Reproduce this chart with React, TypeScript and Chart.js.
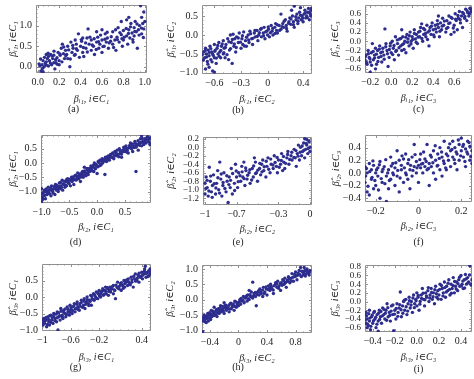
import React, { useEffect, useRef } from "react";
import { Chart, registerables } from "chart.js";

Chart.register(...registerables);

// ---------------- data ----------------
const pointsA: number[][] = [
  [0.02,0.02],[0.03,-0.1],[0.05,-0.12],[0.04,0.05],[0.06,0.0],[0.07,0.08],[0.08,0.12],[0.09,0.2],[0.1,0.25],[0.11,0.15],
  [0.12,0.3],[0.13,0.05],[0.14,0.2],[0.15,0.28],[0.1,0.02],[0.08,0.3],[0.16,-0.05],[0.17,0.1],[0.18,0.22],[0.19,0.35],
  [0.2,0.15],[0.21,0.28],[0.22,0.45],[0.23,0.55],[0.24,0.32],[0.25,0.2],[0.26,0.4],[0.27,0.3],[0.28,0.5],[0.3,0.0],
  [0.31,0.6],[0.32,0.35],[0.33,0.45],[0.35,0.3],[0.36,0.55],[0.37,0.4],[0.38,0.8],[0.4,0.5],[0.41,0.62],[0.42,0.35],
  [0.43,0.25],[0.45,0.45],[0.46,0.7],[0.47,0.92],[0.48,0.55],[0.5,0.4],[0.5,0.65],[0.52,0.5],[0.53,0.3],[0.55,0.6],
  [0.56,0.72],[0.57,0.45],[0.58,0.55],[0.6,0.65],[0.6,0.35],[0.62,0.5],[0.63,0.8],[0.64,0.6],[0.65,0.7],[0.66,0.45],
  [0.68,0.62],[0.7,0.85],[0.7,0.55],[0.72,0.65],[0.73,0.4],[0.74,0.72],[0.75,0.95],[0.76,0.6],[0.78,0.78],[0.79,0.5],
  [0.8,0.88],[0.8,0.65],[0.83,1.14],[0.83,0.75],[0.84,0.55],[0.85,0.9],[0.86,0.7],[0.87,1.05],[0.88,0.82],[0.89,0.6],
  [0.9,0.95],[0.9,0.75],[0.91,1.1],[0.92,0.85],[0.93,0.45],[0.94,0.9],[0.95,1.0],[0.96,1.48],[0.97,0.8],[0.98,1.05],
  [0.99,1.33],[0.99,0.92],[1.0,1.1],[0.97,1.2],[0.85,1.2],[0.78,1.1],[0.6,0.9],[0.55,0.85],[0.42,0.7],[0.35,0.65],
  [0.28,0.2],[0.2,0.05],[0.15,0.1],[0.05,0.15]
];
const pointsA2: number[][] = [
  [0.013,0.07],[0.027,0.19],[0.044,-0.04],[0.063,0.23],[0.081,0.04],[0.097,0.33],[0.118,0.09],[0.134,0.26],[0.152,0.38],[0.167,0.17],
  [0.183,0.06],[0.207,0.31],[0.226,0.12],[0.243,0.48],[0.262,0.27],[0.289,0.41],[0.304,0.19],[0.327,0.52],[0.343,0.28],[0.361,0.44],
  [0.389,0.23],[0.407,0.66],[0.426,0.47],[0.447,0.58],[0.463,0.36],[0.487,0.72],[0.509,0.53],[0.527,0.68],[0.546,0.42],[0.568,0.61],
  [0.587,0.77],[0.609,0.49],[0.627,0.67],[0.648,0.84],[0.667,0.58],[0.686,0.73],[0.708,0.47],[0.727,0.9],[0.743,0.66],[0.767,0.83],
  [0.786,0.68],[0.807,0.72],[0.826,0.93],[0.847,0.81],[0.866,0.97],[0.887,0.66],[0.906,0.86],[0.927,1.04],[0.946,0.77],[0.968,0.94],
  [0.986,0.71]
];
const pointsB: number[][] = [
  [-0.72,-0.45],[-0.71,-0.6],[-0.7,-0.9],[-0.7,-0.35],[-0.69,-0.5],[-0.68,-0.7],[-0.67,-0.4],[-0.66,-0.55],[-0.65,-0.3],[-0.64,-0.65],
  [-0.63,-0.45],[-0.62,-0.95],[-0.62,-0.5],[-0.6,-0.25],[-0.6,-0.6],[-0.59,-0.4],[-0.58,-0.75],[-0.57,-0.35],[-0.56,-0.5],[-0.55,-0.2],
  [-0.54,-0.45],[-0.53,-0.6],[-0.52,-0.3],[-0.5,-0.15],[-0.5,-0.5],[-0.49,-0.35],[-0.48,-0.6],[-0.47,-0.25],[-0.45,-0.1],[-0.44,-0.65],
  [-0.43,-0.4],[-0.42,0.0],[-0.41,-0.2],[-0.4,-0.75],[-0.39,0.02],[-0.38,-0.3],[-0.37,-0.1],[-0.36,-0.45],[-0.35,-0.05],[-0.33,-0.2],
  [-0.32,0.05],[-0.3,-0.35],[-0.29,-0.1],[-0.28,-0.25],[-0.27,0.08],[-0.25,-0.15],[-0.24,-0.3],[-0.22,0.0],[-0.21,-0.2],[-0.2,0.1],
  [-0.18,-0.1],[-0.17,-0.25],[-0.15,0.05],[-0.14,-0.05],[-0.12,0.12],[-0.11,-0.15],[-0.1,0.0],[-0.08,0.15],[-0.07,-0.05],[-0.05,0.05],
  [-0.04,0.2],[-0.03,-0.1],[-0.01,0.1],[0.0,0.0],[0.01,0.15],[0.02,-0.05],[0.04,0.25],[0.05,0.1],[0.06,0.0],[0.08,0.2],
  [0.09,0.3],[0.1,0.12],[0.11,0.05],[0.13,0.25],[0.15,0.55],[0.15,0.15],[0.17,0.3],[0.18,0.2],[0.2,0.4],[0.21,0.25],
  [0.22,0.1],[0.24,0.35],[0.25,0.45],[0.26,0.28],[0.28,0.5],[0.29,0.35],[0.3,0.76],[0.3,0.2],[0.32,0.4],[0.33,0.55],
  [0.34,0.3],[0.35,0.45],[0.36,0.6],[0.38,0.4],[0.39,0.5],[0.4,0.35],[0.41,0.55],[0.42,0.65],[0.43,0.45],[0.44,0.5],
  [0.45,0.6],[0.46,0.7],[0.47,0.4],[0.48,0.55],[0.49,0.65],[0.37,0.72],[0.27,0.65],[-0.66,-0.85],[-0.6,-0.98]
];
const pointsB2: number[][] = [
  [-0.737,-0.52],[-0.724,-0.66],[-0.703,-0.41],[-0.688,-0.58],[-0.674,-0.77],[-0.657,-0.46],[-0.641,-0.36],[-0.627,-0.71],[-0.613,-0.54],[-0.596,-0.43],
  [-0.578,-0.61],[-0.563,-0.28],[-0.547,-0.56],[-0.528,-0.41],[-0.512,-0.24],[-0.493,-0.47],[-0.476,-0.33],[-0.458,-0.52],[-0.437,-0.18],[-0.418,-0.36],
  [-0.397,-0.12],[-0.376,-0.24],[-0.354,-0.33],[-0.331,-0.08],[-0.307,-0.19],[-0.284,-0.02],[-0.262,-0.29],[-0.238,-0.06],[-0.214,-0.13],[-0.192,0.03],
  [-0.167,-0.09],[-0.143,0.12],[-0.118,-0.04],[-0.094,0.06],[-0.071,0.17],[-0.046,-0.02],[-0.023,0.08],[0.007,0.21],[0.031,0.06],[0.057,0.17],
  [0.083,0.04],[0.107,0.27],[0.134,0.12],[0.163,0.22],[0.186,0.36],[0.213,0.17],[0.237,0.31],[0.263,0.42],[0.291,0.27],[0.317,0.48],
  [0.343,0.36],[0.372,0.52],[0.394,0.44],[0.423,0.58],[0.447,0.46],[0.468,0.6],[0.486,0.5],[0.493,0.7]
];
const pointsC: number[][] = [
  [-0.25,-0.4],[-0.24,-0.3],[-0.23,-0.5],[-0.22,-0.2],[-0.21,-0.35],[-0.2,-0.67],[-0.2,-0.45],[-0.19,-0.25],[-0.18,-0.05],[-0.17,-0.4],
  [-0.16,-0.3],[-0.15,-0.15],[-0.14,-0.5],[-0.13,-0.2],[-0.12,-0.35],[-0.11,-0.1],[-0.1,-0.25],[-0.09,-0.45],[-0.08,-0.15],[-0.07,-0.3],
  [-0.06,0.27],[-0.05,-0.05],[-0.04,-0.2],[-0.03,-0.55],[-0.02,-0.35],[-0.01,-0.1],[0.0,-0.25],[0.01,0.0],[0.02,-0.15],[0.03,-0.4],
  [0.04,0.1],[0.05,-0.2],[0.06,-0.05],[0.07,-0.3],[0.08,0.05],[0.09,-0.1],[0.1,-0.2],[0.11,0.1],[0.12,-0.05],[0.13,0.0],
  [0.14,-0.25],[0.15,0.15],[0.16,0.05],[0.17,-0.1],[0.18,0.2],[0.19,0.0],[0.2,0.1],[0.21,-0.15],[0.22,0.25],[0.23,0.05],
  [0.24,0.15],[0.25,-0.05],[0.26,0.2],[0.27,0.1],[0.28,0.3],[0.29,0.38],[0.3,0.0],[0.31,0.15],[0.32,0.25],[0.33,0.1],
  [0.34,0.35],[0.35,0.2],[0.36,-0.1],[0.37,0.3],[0.38,0.15],[0.39,0.4],[0.4,0.25],[0.41,0.1],[0.42,0.35],[0.43,0.2],
  [0.44,0.45],[0.45,0.3],[0.46,0.1],[0.47,0.4],[0.48,0.25],[0.49,0.5],[0.5,0.35],[0.52,0.2],[0.53,0.45],[0.54,0.3],
  [0.55,0.55],[0.56,0.4],[0.57,0.15],[0.58,0.5],[0.6,0.35],[0.61,0.6],[0.62,0.45],[0.63,0.25],[0.64,0.5],[0.65,0.65],
  [0.66,0.4],[0.67,0.55],[0.68,0.3],[0.69,0.6],[0.7,0.5],[0.71,0.7],[0.72,0.45],[0.73,0.62],[0.74,0.55],[0.75,0.72],
  [0.76,0.65],[0.6,0.2],[0.45,0.55],[0.1,0.25],[-0.15,-0.6]
];
const pointsC2: number[][] = [
  [-0.247,-0.33],[-0.236,-0.46],[-0.218,-0.27],[-0.203,-0.38],[-0.187,-0.52],[-0.172,-0.22],[-0.158,-0.36],[-0.141,-0.28],[-0.127,-0.44],[-0.113,-0.17],
  [-0.097,-0.33],[-0.083,-0.23],[-0.067,-0.39],[-0.052,-0.12],[-0.036,-0.27],[-0.018,-0.18],[-0.006,-0.04],[0.014,-0.29],[0.027,-0.09],[0.043,-0.22],
  [0.058,0.03],[0.074,-0.14],[0.092,0.06],[0.108,-0.07],[0.123,-0.18],[0.139,0.09],[0.156,-0.02],[0.173,0.12],[0.188,-0.06],[0.204,0.04],
  [0.221,0.17],[0.238,-0.02],[0.256,0.09],[0.273,0.22],[0.292,0.06],[0.308,0.28],[0.327,0.17],[0.346,0.04],[0.364,0.23],[0.383,0.33],
  [0.404,0.14],[0.423,0.27],[0.443,0.37],[0.464,0.22],[0.486,0.33],[0.507,0.44],[0.527,0.28],[0.548,0.39],[0.571,0.52],[0.592,0.29],
  [0.614,0.48],[0.636,0.56],[0.657,0.47],[0.679,0.63],[0.702,0.54],[0.724,0.66],[0.746,0.6],[0.762,0.7]
];
const pointsD: number[][] = [
  [-1.0,-1.35],[-1.0,-0.9],[-0.99,-1.2],[-0.98,-1.05],[-0.96,-1.15],[-0.95,-0.95],[-0.93,-1.25],[-0.92,-1.0],[-0.9,-1.1],[-0.88,-0.85],
  [-0.87,-1.05],[-0.85,-0.95],[-0.83,-1.15],[-0.82,-0.8],[-0.8,-1.0],[-0.78,-0.9],[-0.76,-1.1],[-0.75,-0.75],[-0.73,-0.95],[-0.72,-0.85],
  [-0.7,-1.0],[-0.68,-0.7],[-0.67,-0.9],[-0.65,-0.8],[-0.63,-0.6],[-0.62,-0.95],[-0.6,-0.75],[-0.58,-0.85],[-0.56,-0.65],[-0.55,-0.8],
  [-0.53,-0.55],[-0.52,-0.7],[-0.5,-0.6],[-0.48,-0.8],[-0.46,-0.5],[-0.45,-0.65],[-0.43,-0.55],[-0.42,-0.75],[-0.4,-0.45],[-0.38,-0.6],
  [-0.36,-0.5],[-0.35,-0.35],[-0.33,-0.55],[-0.31,-0.45],[-0.3,-0.65],[-0.28,-0.4],[-0.26,-0.3],[-0.25,-0.5],[-0.23,-0.15],[-0.22,-0.35],
  [-0.2,-0.45],[-0.18,-0.25],[-0.16,-0.4],[-0.15,-0.2],[-0.13,-0.3],[-0.11,-0.1],[-0.1,-0.25],[-0.08,-0.15],[-0.06,-0.3],[-0.05,0.0],
  [-0.03,-0.2],[-0.01,-0.1],[0.0,-0.37],[0.02,0.05],[0.04,-0.1],[0.05,0.1],[0.07,-0.05],[0.09,0.15],[0.1,0.0],[0.12,0.1],
  [0.14,-0.4],[0.15,0.2],[0.17,0.05],[0.19,0.15],[0.2,0.25],[0.22,0.1],[0.24,0.3],[0.26,0.2],[0.28,0.35],[0.3,0.15],
  [0.32,0.4],[0.34,0.25],[0.36,0.45],[0.38,0.3],[0.4,0.5],[0.42,0.35],[0.44,0.2],[0.46,0.45],[0.48,0.55],[0.5,0.4],
  [0.52,0.6],[0.54,0.45],[0.56,0.35],[0.58,0.55],[0.6,0.7],[0.62,0.5],[0.64,0.4],[0.66,0.6],[0.68,0.75],[0.7,-0.3],
  [0.7,0.55],[0.72,0.65],[0.74,0.45],[0.76,0.7],[0.78,0.85],[0.8,0.95],[0.8,0.6],[0.82,0.75],[0.84,0.65],[0.86,0.85],
  [0.88,0.7],[0.9,0.9],[0.92,0.75],[0.94,0.85],[0.95,0.65]
];
const pointsD2: number[][] = [
  [-0.994,-1.08],[-0.976,-1.27],[-0.957,-1.02],[-0.938,-1.13],[-0.917,-0.91],[-0.896,-1.03],[-0.874,-0.96],[-0.853,-1.08],[-0.834,-0.87],[-0.812,-0.93],
  [-0.791,-1.06],[-0.768,-0.82],[-0.746,-0.88],[-0.723,-0.78],[-0.704,-0.91],[-0.683,-0.82],[-0.661,-0.68],[-0.642,-0.86],[-0.617,-0.73],[-0.594,-0.64],
  [-0.573,-0.77],[-0.547,-0.58],[-0.524,-0.66],[-0.503,-0.72],[-0.478,-0.57],[-0.456,-0.62],[-0.434,-0.49],[-0.411,-0.58],[-0.387,-0.43],[-0.363,-0.56],
  [-0.342,-0.47],[-0.317,-0.38],[-0.294,-0.49],[-0.273,-0.33],[-0.248,-0.42],[-0.226,-0.28],[-0.204,-0.36],[-0.183,-0.19],[-0.157,-0.31],[-0.134,-0.22],
  [-0.113,-0.16],[-0.087,-0.27],[-0.064,-0.08],[-0.041,-0.17],[-0.017,-0.04],[0.013,-0.13],[0.034,0.02],[0.062,-0.08],[0.083,0.07],[0.112,0.04],
  [0.137,0.13],[0.163,0.08],[0.186,0.21],[0.214,0.14],[0.238,0.22],[0.263,0.31],[0.287,0.19],[0.313,0.28],[0.338,0.37],[0.364,0.31],
  [0.388,0.22],[0.413,0.43],[0.437,0.31],[0.463,0.39],[0.487,0.47],[0.514,0.53],[0.537,0.38],[0.562,0.52],[0.586,0.61],[0.613,0.58],
  [0.637,0.67],[0.662,0.54],[0.687,0.69],[0.712,0.61],[0.737,0.78],[0.762,0.62],[0.787,0.72],[0.813,0.86],[0.836,0.71],[0.862,0.78],
  [0.887,0.83],[0.913,0.92],[0.937,0.73],[0.952,0.88]
];
const pointsE: number[][] = [
  [-1.0,-0.85],[-1.0,-1.1],[-0.99,-0.7],[-0.98,-0.95],[-0.97,-1.15],[-0.96,-0.47],[-0.95,-0.8],[-0.94,-1.05],[-0.93,-0.9],[-0.92,-0.65],
  [-0.9,-1.1],[-0.89,-0.85],[-0.88,-0.55],[-0.87,-1.0],[-0.85,-0.75],[-0.84,-1.15],[-0.83,-0.9],[-0.82,-0.6],[-0.8,-1.05],[-0.79,-0.8],
  [-0.78,-1.3],[-0.77,-0.7],[-0.76,-0.95],[-0.75,-0.5],[-0.74,-1.1],[-0.72,-0.85],[-0.71,-0.4],[-0.7,-0.7],[-0.69,-0.95],[-0.68,-0.6],
  [-0.66,-0.8],[-0.65,-0.45],[-0.64,-0.7],[-0.62,-0.9],[-0.61,-0.55],[-0.6,-0.75],[-0.58,-0.6],[-0.57,-0.85],[-0.55,-0.5],[-0.54,-0.7],
  [-0.52,-0.35],[-0.51,-0.6],[-0.5,-0.8],[-0.48,-0.5],[-0.47,-0.65],[-0.45,-0.3],[-0.44,-0.55],[-0.42,-0.7],[-0.41,-0.45],[-0.4,-0.25],
  [-0.38,-0.6],[-0.37,-0.4],[-0.35,-0.5],[-0.34,-0.2],[-0.32,-0.45],[-0.31,-0.6],[-0.3,-0.3],[-0.28,-0.4],[-0.27,-0.15],[-0.25,-0.35],
  [-0.24,-0.5],[-0.22,-0.25],[-0.21,-0.1],[-0.2,-0.4],[-0.18,-0.2],[-0.17,-0.3],[-0.15,-0.05],[-0.14,-0.25],[-0.13,-0.45],[-0.12,-0.15],
  [-0.1,-0.3],[-0.09,0.0],[-0.08,-0.2],[-0.07,-0.1],[-0.06,0.1],[-0.05,0.2],[-0.05,-0.25],[-0.04,-0.05],[-0.03,0.05],[-0.02,-0.15],
  [-0.01,0.15],[0.0,0.0],[0.0,-0.1],[-0.03,0.18],[-0.11,0.05],[-0.26,-0.55],[-0.46,-0.4],[-0.53,-0.25],[-0.63,-0.35],[-0.86,-0.35]
];
const pointsE2: number[][] = [
  [-0.993,-0.97],[-0.981,-0.78],[-0.964,-1.03],[-0.947,-0.68],[-0.932,-1.18],[-0.913,-0.86],[-0.897,-0.96],[-0.878,-0.72],[-0.862,-1.08],[-0.846,-0.63],
  [-0.828,-0.83],[-0.811,-0.97],[-0.793,-0.67],[-0.773,-0.88],[-0.757,-0.78],[-0.737,-0.62],[-0.718,-1.02],[-0.703,-0.56],[-0.684,-0.81],[-0.667,-0.67],
  [-0.647,-0.58],[-0.628,-0.74],[-0.613,-0.49],[-0.594,-0.66],[-0.573,-0.53],[-0.556,-0.77],[-0.537,-0.44],[-0.518,-0.62],[-0.497,-0.54],[-0.478,-0.38],
  [-0.457,-0.58],[-0.436,-0.46],[-0.417,-0.33],[-0.393,-0.52],[-0.374,-0.28],[-0.353,-0.42],[-0.332,-0.36],[-0.313,-0.24],[-0.293,-0.47],[-0.273,-0.31],
  [-0.252,-0.22],[-0.232,-0.38],[-0.213,-0.17],[-0.193,-0.29],[-0.173,-0.12],[-0.152,-0.24],[-0.133,-0.08],[-0.113,-0.21],[-0.093,-0.12],[-0.074,0.03],
  [-0.057,-0.07],[-0.036,0.09],[-0.017,-0.03],[-0.008,0.12]
];
const pointsF: number[][] = [
  [-0.25,0.1],[-0.25,-0.15],[-0.24,0.0],[-0.24,-0.3],[-0.23,0.15],[-0.23,-0.35],[-0.22,0.05],[-0.22,-0.1],[-0.21,-0.25],[-0.21,0.12],
  [-0.2,0.0],[-0.2,-0.2],[-0.19,0.08],[-0.19,-0.05],[-0.18,-0.4],[-0.18,0.18],[-0.17,0.02],[-0.17,-0.15],[-0.16,0.1],[-0.15,-0.45],
  [-0.15,-0.05],[-0.14,0.05],[-0.14,-0.25],[-0.13,0.25],[-0.13,-0.1],[-0.12,0.0],[-0.12,0.15],[-0.11,-0.2],[-0.11,0.08],[-0.1,0.35],
  [-0.1,-0.05],[-0.09,0.2],[-0.09,-0.3],[-0.08,0.05],[-0.08,0.12],[-0.07,-0.15],[-0.07,0.22],[-0.06,0.0],[-0.06,0.3],[-0.05,-0.1],
  [-0.05,0.15],[-0.04,0.05],[-0.04,-0.25],[-0.03,0.25],[-0.03,-0.05],[-0.02,0.1],[-0.02,0.45],[-0.01,0.0],[-0.01,0.18],[0.0,0.12],
  [0.0,-0.15],[0.01,0.08],[0.01,0.3],[0.02,0.15],[0.02,0.0],[0.03,0.1],[0.03,0.22],[0.04,0.45],[0.04,0.05],[0.05,0.15],
  [0.05,-0.2],[0.06,0.25],[0.06,0.1],[0.07,0.35],[0.07,0.0],[0.08,0.2],[0.08,-0.1],[0.09,0.3],[0.09,0.12],[0.1,0.4],
  [0.1,0.05],[0.11,0.25],[0.11,-0.05],[0.12,0.5],[0.12,0.15],[0.13,0.3],[0.13,0.05],[0.14,0.4],[0.14,0.2],[0.15,0.1],
  [0.15,0.35],[0.16,0.5],[0.16,0.25],[0.17,0.15],[0.17,0.4],[0.18,0.3],[0.18,0.05],[0.19,0.45],[0.19,0.2],[0.2,0.55],
  [0.2,0.35],[0.21,0.25],[0.21,0.45],[0.22,0.1],[0.22,0.38],[0.23,0.3],[0.23,0.5],[0.24,0.2],[0.24,0.42],[0.25,0.35],
  [0.25,0.15]
];
const pointsF2: number[][] = [
  [-0.247,-0.05],[-0.243,0.07],[-0.236,-0.21],[-0.228,0.02],[-0.217,-0.07],[-0.213,0.19],[-0.204,-0.12],[-0.196,0.05],[-0.187,-0.27],[-0.183,0.13],
  [-0.174,-0.09],[-0.166,0.06],[-0.157,-0.17],[-0.153,0.21],[-0.144,0.0],[-0.136,-0.12],[-0.127,0.11],[-0.117,-0.03],[-0.106,0.16],[-0.097,0.04],
  [-0.086,-0.08],[-0.077,0.27],[-0.066,0.08],[-0.057,-0.03],[-0.046,0.21],[-0.037,0.12],[-0.026,0.04],[-0.016,0.29],[-0.007,0.08],[0.006,0.21],
  [0.013,0.14],[0.024,0.33],[0.036,0.18],[0.047,0.07],[0.056,0.28],[0.067,0.16],[0.078,0.43],[0.087,0.11],[0.097,0.23],[0.108,0.33],
  [0.117,0.19],[0.127,0.08],[0.137,0.27],[0.146,0.46],[0.156,0.37],[0.167,0.21],[0.176,0.33],[0.186,0.52],[0.197,0.27],[0.207,0.42],
  [0.217,0.18],[0.226,0.33],[0.236,0.48],[0.244,0.26]
];
const pointsG: number[][] = [
  [-1.0,-0.75],[-0.99,-0.85],[-0.98,-0.65],[-0.97,-0.8],[-0.95,-0.7],[-0.94,-0.9],[-0.92,-0.6],[-0.91,-0.75],[-0.9,-0.85],[-0.88,-0.55],
  [-0.87,-0.7],[-0.85,-0.8],[-0.84,-0.5],[-0.82,-0.65],[-0.8,-0.75],[-0.79,-0.45],[-0.78,-1.0],[-0.77,-0.6],[-0.75,-0.7],[-0.74,-0.35],
  [-0.72,-0.55],[-0.71,-0.65],[-0.7,-0.4],[-0.68,-0.5],[-0.67,-0.6],[-0.65,-0.3],[-0.64,-0.45],[-0.62,-0.55],[-0.61,-0.25],[-0.6,-0.4],
  [-0.58,-0.5],[-0.57,-0.3],[-0.55,-0.2],[-0.54,-0.45],[-0.52,-0.35],[-0.51,-0.15],[-0.5,-0.3],[-0.48,-0.4],[-0.47,-0.2],[-0.45,-0.1],
  [-0.44,-0.3],[-0.42,-0.25],[-0.41,-0.05],[-0.4,-0.35],[-0.38,-0.15],[-0.37,0.0],[-0.35,-0.2],[-0.34,-0.1],[-0.32,0.05],[-0.31,-0.25],
  [-0.3,-0.05],[-0.28,0.1],[-0.27,-0.1],[-0.25,0.0],[-0.24,0.15],[-0.22,-0.05],[-0.21,0.1],[-0.2,0.2],[-0.18,0.0],[-0.17,0.15],
  [-0.15,0.25],[-0.14,0.05],[-0.12,0.2],[-0.11,0.3],[-0.1,0.1],[-0.08,0.25],[-0.07,0.05],[-0.05,0.3],[-0.04,0.15],[-0.02,0.25],
  [0.0,0.35],[0.0,0.1],[0.02,0.2],[0.03,-0.05],[0.05,0.3],[0.06,0.45],[0.08,0.25],[0.1,0.4],[0.11,0.2],[0.13,0.35],
  [0.15,0.5],[0.16,0.3],[0.18,0.45],[0.2,0.35],[0.21,0.55],[0.23,0.4],[0.25,0.6],[0.26,0.45],[0.28,0.3],[0.3,0.55],
  [0.31,0.7],[0.33,0.5],[0.35,0.65],[0.36,0.45],[0.38,0.6],[0.4,0.75],[0.41,0.55],[0.43,0.7],[0.44,0.85],[0.45,0.93],
  [0.46,0.6],[0.48,0.75],[0.5,0.8],[0.5,0.65],[0.52,0.7]
];
const pointsG2: number[][] = [
  [-0.994,-0.68],[-0.981,-0.77],[-0.963,-0.73],[-0.947,-0.62],[-0.928,-0.83],[-0.913,-0.68],[-0.896,-0.57],[-0.878,-0.77],[-0.861,-0.63],[-0.843,-0.58],
  [-0.826,-0.71],[-0.808,-0.52],[-0.791,-0.63],[-0.773,-0.48],[-0.756,-0.57],[-0.737,-0.43],[-0.718,-0.61],[-0.697,-0.47],[-0.678,-0.36],[-0.658,-0.53],
  [-0.637,-0.38],[-0.617,-0.47],[-0.596,-0.32],[-0.576,-0.41],[-0.556,-0.27],[-0.534,-0.36],[-0.513,-0.22],[-0.493,-0.38],[-0.472,-0.28],[-0.452,-0.17],
  [-0.431,-0.31],[-0.411,-0.13],[-0.389,-0.22],[-0.367,-0.08],[-0.347,-0.26],[-0.326,-0.13],[-0.304,0.02],[-0.283,-0.08],[-0.262,0.06],[-0.241,-0.04],
  [-0.219,0.13],[-0.197,0.04],[-0.176,0.09],[-0.153,0.18],[-0.131,0.08],[-0.109,0.17],[-0.087,0.28],[-0.064,0.17],[-0.042,0.22],[-0.018,0.31],
  [0.013,0.21],[0.037,0.36],[0.063,0.27],[0.087,0.33],[0.113,0.43],[0.137,0.26],[0.162,0.41],[0.187,0.52],[0.213,0.46],[0.238,0.37],
  [0.262,0.52],[0.287,0.63],[0.313,0.48],[0.337,0.57],[0.362,0.72],[0.388,0.62],[0.412,0.66],[0.437,0.78],[0.463,0.71],[0.487,0.62],
  [0.507,0.76],[0.517,0.85]
];
const pointsH: number[][] = [
  [-0.5,-1.05],[-0.5,-0.6],[-0.49,-0.7],[-0.48,-0.5],[-0.47,-0.65],[-0.46,-0.55],[-0.45,-0.75],[-0.44,-0.6],[-0.43,-0.45],[-0.42,-0.7],
  [-0.4,-0.5],[-0.39,-0.65],[-0.38,-0.35],[-0.37,-0.55],[-0.35,-0.45],[-0.34,-0.25],[-0.32,-0.5],[-0.31,-0.35],[-0.3,-0.55],[-0.28,-0.3],
  [-0.27,-0.45],[-0.25,-0.2],[-0.24,-0.4],[-0.22,-0.3],[-0.2,-0.45],[-0.19,-0.2],[-0.17,-0.35],[-0.15,-0.25],[-0.13,-0.4],[-0.12,-0.15],
  [-0.1,-0.3],[-0.08,-0.2],[-0.06,-0.35],[-0.05,-0.05],[-0.03,-0.25],[-0.01,-0.1],[0.0,-0.2],[0.02,0.0],[0.03,-0.15],[0.05,-0.05],
  [0.07,0.1],[0.08,-0.1],[0.1,0.05],[0.12,-0.05],[0.13,0.15],[0.15,0.0],[0.17,0.1],[0.18,0.25],[0.2,0.57],[0.2,0.05],
  [0.22,0.2],[0.24,0.1],[0.25,-0.2],[0.27,0.25],[0.29,0.15],[0.3,0.35],[0.32,0.2],[0.34,0.1],[0.35,0.4],[0.37,0.25],
  [0.39,0.35],[0.4,0.15],[0.42,0.45],[0.44,0.3],[0.45,0.5],[0.47,0.35],[0.49,0.2],[0.5,0.45],[0.52,0.55],[0.54,0.4],
  [0.55,0.6],[0.57,0.45],[0.59,0.3],[0.6,0.55],[0.62,0.65],[0.64,0.5],[0.65,0.7],[0.67,0.4],[0.69,0.6],[0.7,0.75],
  [0.72,0.55],[0.74,0.7],[0.75,0.85],[0.77,0.6],[0.79,0.75],[0.8,0.9],[0.82,0.65],[0.84,0.8],[0.85,0.95],[0.87,1.05],
  [0.88,0.75],[0.9,0.9],[0.91,0.8],[0.93,0.95],[0.95,0.85],[0.96,1.0],[0.98,0.9],[0.99,0.8],[1.0,0.95],[0.92,1.05],
  [0.15,0.3],[-0.2,-0.1]
];
const pointsH2: number[][] = [
  [-0.493,-0.58],[-0.486,-0.67],[-0.473,-0.55],[-0.461,-0.73],[-0.448,-0.62],[-0.432,-0.52],[-0.417,-0.6],[-0.403,-0.43],[-0.386,-0.57],[-0.372,-0.47],
  [-0.357,-0.38],[-0.341,-0.52],[-0.326,-0.41],[-0.307,-0.32],[-0.292,-0.44],[-0.276,-0.37],[-0.261,-0.28],[-0.243,-0.34],[-0.227,-0.22],[-0.211,-0.37],
  [-0.192,-0.27],[-0.176,-0.18],[-0.157,-0.29],[-0.142,-0.21],[-0.124,-0.31],[-0.107,-0.12],[-0.087,-0.24],[-0.072,-0.14],[-0.053,-0.22],[-0.036,-0.08],
  [-0.017,-0.16],[0.013,-0.07],[0.037,0.04],[0.063,-0.02],[0.087,0.07],[0.113,0.12],[0.137,0.03],[0.162,0.16],[0.187,0.08],[0.213,0.13],
  [0.237,0.23],[0.262,0.17],[0.287,0.3],[0.312,0.24],[0.337,0.31],[0.362,0.2],[0.386,0.41],[0.413,0.33],[0.437,0.38],[0.462,0.42],
  [0.487,0.31],[0.513,0.48],[0.537,0.51],[0.562,0.37],[0.587,0.53],[0.612,0.47],[0.636,0.61],[0.662,0.56],[0.686,0.64],[0.712,0.68],
  [0.737,0.61],[0.762,0.73],[0.787,0.82],[0.812,0.78],[0.837,0.86],[0.862,0.81],[0.887,0.93],[0.912,0.87],[0.937,0.77],[0.962,0.93],
  [0.983,0.86],[0.996,0.9]
];
const pointsI: number[][] = [
  [-0.47,-0.3],[-0.46,-0.5],[-0.46,-0.25],[-0.45,-0.6],[-0.45,-0.4],[-0.44,-0.55],[-0.43,-0.2],[-0.43,-0.45],[-0.42,-0.65],[-0.41,-0.35],
  [-0.4,-0.5],[-0.39,-0.25],[-0.38,-0.4],[-0.37,-0.6],[-0.36,-0.3],[-0.35,-0.68],[-0.35,-0.45],[-0.34,-0.2],[-0.33,-0.35],[-0.32,-0.5],
  [-0.31,-0.15],[-0.3,-0.3],[-0.29,-0.4],[-0.28,-0.2],[-0.27,-0.05],[-0.26,-0.35],[-0.25,-0.25],[-0.24,-0.45],[-0.23,-0.1],[-0.22,-0.3],
  [-0.21,-0.67],[-0.2,-0.2],[-0.19,-0.4],[-0.18,-0.05],[-0.17,-0.25],[-0.16,-0.15],[-0.15,0.22],[-0.14,-0.35],[-0.13,-0.1],[-0.12,0.0],
  [-0.11,-0.2],[-0.1,0.05],[-0.09,-0.3],[-0.08,-0.05],[-0.07,0.1],[-0.06,-0.15],[-0.05,0.0],[-0.04,-0.25],[-0.03,0.15],[-0.02,-0.05],
  [-0.01,0.05],[0.0,-0.1],[0.0,0.2],[0.01,0.1],[0.02,-0.2],[0.03,0.0],[0.04,0.15],[0.05,0.3],[0.06,0.05],[0.07,-0.1],
  [0.08,0.2],[0.09,0.1],[0.1,0.25],[0.11,0.0],[0.12,0.15],[0.13,0.3],[0.14,0.05],[0.15,0.2],[0.16,-0.05],[0.17,0.35],
  [0.18,0.1],[0.19,0.25],[0.2,0.15],[0.21,0.4],[0.22,0.05],[0.23,0.3],[0.24,0.2],[0.25,0.45],[0.26,0.1],[0.27,0.35],
  [0.28,0.25],[0.29,0.5],[0.3,0.15],[0.31,0.4],[0.32,0.3],[0.33,0.55],[0.34,0.2],[0.35,0.35],[0.36,0.45],[0.37,0.25],
  [0.38,0.5],[0.39,0.35],[0.4,0.6],[0.41,0.4],[0.42,0.3],[0.43,0.5],[0.44,0.62],[0.45,0.4],[0.46,0.55],[0.47,0.45],
  [0.48,0.82],[0.49,0.4],[0.5,0.5]
];
const pointsI2: number[][] = [
  [-0.468,-0.42],[-0.457,-0.33],[-0.447,-0.52],[-0.436,-0.28],[-0.426,-0.38],[-0.417,-0.57],[-0.404,-0.31],[-0.393,-0.44],[-0.384,-0.23],[-0.373,-0.36],
  [-0.362,-0.52],[-0.347,-0.27],[-0.337,-0.41],[-0.326,-0.23],[-0.313,-0.33],[-0.297,-0.18],[-0.286,-0.27],[-0.274,-0.43],[-0.263,-0.14],[-0.246,-0.32],
  [-0.233,-0.22],[-0.217,-0.08],[-0.203,-0.29],[-0.187,-0.16],[-0.173,-0.34],[-0.156,-0.07],[-0.143,-0.19],[-0.127,-0.27],[-0.113,0.03],[-0.097,-0.12],
  [-0.083,-0.22],[-0.067,0.02],[-0.053,-0.08],[-0.036,0.08],[-0.023,-0.14],[-0.007,0.02],[0.013,0.14],[0.027,-0.06],[0.043,0.07],[0.057,0.19],
  [0.073,0.04],[0.087,0.13],[0.104,0.32],[0.117,0.08],[0.133,0.21],[0.147,0.11],[0.163,0.27],[0.177,0.18],[0.193,0.06],[0.207,0.28],
  [0.223,0.37],[0.237,0.13],[0.253,0.32],[0.267,0.22],[0.283,0.42],[0.297,0.28],[0.313,0.19],[0.327,0.37],[0.343,0.46],[0.357,0.29],
  [0.373,0.41],[0.387,0.56],[0.403,0.36],[0.417,0.47],[0.433,0.31],[0.447,0.52],[0.463,0.43],[0.477,0.61],[0.493,0.38]
];

// tick values and labels
const ticksAX = [0, 0.2, 0.4, 0.6, 0.8, 1.0];
const labelsAX = ["0.0", "0.2", "0.4", "0.6", "0.8", "1.0"];
const ticksAY = [0, 0.5, 1.0];
const labelsAY = ["0.0", "0.5", "1.0"];
const ticksBX = [-0.6, -0.3, 0, 0.4];
const labelsBX = ["\u22120.6", "\u22120.3", "0", "0.4"];
const ticksBY = [-1.0, -0.5, 0, 0.5];
const labelsBY = ["\u22121.0", "\u22120.5", "0.0", "0.5"];
const ticksCX = [-0.2, 0, 0.2, 0.4, 0.6];
const labelsCX = ["\u22120.2", "0.0", "0.2", "0.4", "0.6"];
const ticksCY = [-0.6, -0.4, -0.2, 0, 0.2, 0.4, 0.6];
const labelsCY = ["\u22120.6", "\u22120.4", "\u22120.2", "0.0", "0.2", "0.4", "0.6"];
const ticksDX = [-1.0, -0.5, 0, 0.5];
const labelsDX = ["\u22121.0", "\u22120.5", "0.0", "0.5"];
const ticksDY = [-1.0, -0.5, 0, 0.5];
const labelsDY = ["\u22121.0", "\u22120.5", "0.0", "0.5"];
const ticksEX = [-1, -0.7, -0.3, 0];
const labelsEX = ["\u22121", "\u22120.7", "\u22120.3", "0"];
const ticksEY = [-1.2, -1.0, -0.8, -0.6, -0.4, -0.2, 0, 0.2];
const labelsEY = ["\u22121.2", "\u22121.0", "\u22120.8", "\u22120.6", "\u22120.4", "\u22120.2", "0.0", "0.2"];
const ticksFX = [-0.2, 0, 0.2];
const labelsFX = ["\u22120.2", "0", "0.2"];
const ticksFY = [-0.4, -0.2, 0, 0.2, 0.4];
const labelsFY = ["\u22120.4", "\u22120.2", "0.0", "0.2", "0.4"];
const ticksGX = [-1, -0.6, -0.2, 0.4];
const labelsGX = ["\u22121", "\u22120.6", "\u22120.2", "0.4"];
const ticksGY = [-1.0, -0.5, 0, 0.5];
const labelsGY = ["\u22121.0", "\u22120.5", "0.0", "0.5"];
const ticksHX = [-0.4, 0, 0.4, 0.8];
const labelsHX = ["\u22120.4", "0", "0.4", "0.8"];
const ticksHY = [-1.0, -0.5, 0, 0.5, 1.0];
const labelsHY = ["\u22121.0", "\u22120.5", "0.0", "0.5", "1.0"];
const ticksIX = [-0.4, -0.2, 0, 0.2, 0.4];
const labelsIX = ["\u22120.4", "\u22120.2", "0.0", "0.2", "0.4"];
const ticksIY = [-0.6, -0.4, -0.2, 0, 0.2, 0.4, 0.6, 0.8];
const labelsIY = ["\u22120.6", "\u22120.4", "\u22120.2", "0.0", "0.2", "0.4", "0.6", "0.8"];

const paramSubs = ["\u1D62\u2081", "\u1D62\u2082", "\u1D62\u2083"];
const clusterSubs = ["\u2081", "\u2082", "\u2083"];
const captions = ["(a)", "(b)", "(c)", "(d)", "(e)", "(f)", "(g)", "(h)", "(i)"];

// ---------------- layout / styling ----------------
const SERIF = "'Liberation Serif', 'DejaVu Serif', 'Times New Roman', serif";
const POINT_COLOR = "#2d2d8e";
const FRAME_COLOR = "#8f8f8f";
const TEXT_COLOR = "#222222";

type Spec = {
  points: number[][];
  xr: number[]; yr: number[];
  xt: number[]; xl: string[]; yt: number[]; yl: string[];
  xMinor: number; yMinor: number;
  row: number; col: number;
  canvas: number[];
  box: number[];
  yTitleX: number; xTitleY: number; capY: number; capFull: boolean;
  yTickSize: number;
};

const specs: Spec[] = [
  { points: pointsA.concat(pointsA2), xr: [-0.016, 1.02], yr: [-0.15, 1.5], xt: ticksAX, xl: labelsAX, yt: ticksAY, yl: labelsAY, xMinor: 0.05, yMinor: 0.1,
    row: 0, col: 0, canvas: [0, 0, 160, 120], box: [36, 5, 147, 73], yTitleX: 13, xTitleY: 99, capY: 109, capFull: true, yTickSize: 10 },
  { points: pointsB.concat(pointsB2), xr: [-0.74, 0.5], yr: [-1.03, 0.79], xt: ticksBX, xl: labelsBX, yt: ticksBY, yl: labelsBY, xMinor: 0.1, yMinor: 0.1,
    row: 0, col: 1, canvas: [164, 0, 155, 120], box: [202, 5, 312, 74], yTitleX: 171, xTitleY: 99, capY: 110, capFull: true, yTickSize: 10 },
  { points: pointsC.concat(pointsC2), xr: [-0.25, 0.77], yr: [-0.69, 0.79], xt: ticksCX, xl: labelsCX, yt: ticksCY, yl: labelsCY, xMinor: 0.05, yMinor: 0.05,
    row: 0, col: 2, canvas: [315, 0, 159, 120], box: [365, 5, 472, 73], yTitleX: 335, xTitleY: 98, capY: 109, capFull: false, yTickSize: 9 },
  { points: pointsD.concat(pointsD2), xr: [-1.01, 0.97], yr: [-1.4, 0.98], xt: ticksDX, xl: labelsDX, yt: ticksDY, yl: labelsDY, xMinor: 0.1, yMinor: 0.1,
    row: 1, col: 0, canvas: [0, 125, 160, 125], box: [41, 135, 151, 203], yTitleX: 13, xTitleY: 227, capY: 242, capFull: true, yTickSize: 10 },
  { points: pointsE.concat(pointsE2), xr: [-1.02, 0.02], yr: [-1.36, 0.24], xt: ticksEX, xl: labelsEX, yt: ticksEY, yl: labelsEY, xMinor: 0.1, yMinor: 0.05,
    row: 1, col: 1, canvas: [164, 125, 155, 125], box: [203, 137, 312, 205], yTitleX: 171, xTitleY: 229, capY: 242, capFull: true, yTickSize: 9 },
  { points: pointsF.concat(pointsF2), xr: [-0.25, 0.25], yr: [-0.46, 0.6], xt: ticksFX, xl: labelsFX, yt: ticksFY, yl: labelsFY, xMinor: 0.05, yMinor: 0.05,
    row: 1, col: 2, canvas: [315, 125, 159, 125], box: [365, 135, 472, 202], yTitleX: 336, xTitleY: 226, capY: 242, capFull: false, yTickSize: 10 },
  { points: pointsG.concat(pointsG2), xr: [-1.005, 0.53], yr: [-1.03, 1.0], xt: ticksGX, xl: labelsGX, yt: ticksGY, yl: labelsGY, xMinor: 0.1, yMinor: 0.1,
    row: 2, col: 0, canvas: [0, 250, 160, 129], box: [42, 264, 151, 331], yTitleX: 13, xTitleY: 357, capY: 367, capFull: true, yTickSize: 10 },
  { points: pointsH.concat(pointsH2), xr: [-0.51, 1.03], yr: [-1.09, 1.13], xt: ticksHX, xl: labelsHX, yt: ticksHY, yl: labelsHY, xMinor: 0.1, yMinor: 0.1,
    row: 2, col: 1, canvas: [164, 250, 155, 129], box: [202, 265, 312, 333], yTitleX: 170, xTitleY: 358, capY: 367, capFull: true, yTickSize: 10 },
  { points: pointsI.concat(pointsI2), xr: [-0.47, 0.5], yr: [-0.7, 0.84], xt: ticksIX, xl: labelsIX, yt: ticksIY, yl: labelsIY, xMinor: 0.05, yMinor: 0.05,
    row: 2, col: 2, canvas: [315, 250, 159, 129], box: [365, 265, 472, 332], yTitleX: 335, xTitleY: 357, capY: 369, capFull: false, yTickSize: 9 },
];

function minorValues(min: number, max: number, step: number): number[] {
  const out: number[] = [];
  const start = Math.ceil(min / step - 1e-9);
  const end = Math.floor(max / step + 1e-9);
  for (let k = start; k <= end; k++) out.push(k * step);
  return out;
}

function Panel({ spec, index }: { spec: Spec; index: number }) {
  const ref = useRef<HTMLCanvasElement | null>(null);

  useEffect(() => {
    const canvas = ref.current;
    if (!canvas) return;
    const [CL, CT, CW, CH] = spec.canvas;
    const [L, T, R, B] = spec.box;
    const lhCap = 10;
    const lhTitle = 10;
    const padTop = T - CT;
    const padRight = CL + CW - R;
    const padBottom = CT + CH - spec.capY - lhCap / 2;
    const xAxisH = spec.capY - lhCap / 2 - B;
    const yAxisW = L - CL;
    const yTitlePad = spec.yTitleX - CL - lhTitle / 2;
    const xTitlePad = spec.capY - lhCap / 2 - lhTitle / 2 - spec.xTitleY;

    const xTitle = "\u03B2" + paramSubs[spec.row] + ", i\u2208C" + clusterSubs[spec.col];
    const yTitle = "\u03B2\u0302" + paramSubs[spec.row] + ", i\u2208C" + clusterSubs[spec.col];

    const frame = {
      id: "frame" + index,
      beforeDatasetsDraw(chart: any) {
        const { ctx, chartArea: a, scales } = chart;
        const sx = scales.x, sy = scales.y;
        ctx.save();
        ctx.strokeStyle = FRAME_COLOR;
        ctx.lineWidth = 1;
        ctx.beginPath();
        ctx.rect(Math.round(a.left) + 0.5, Math.round(a.top) + 0.5,
          Math.round(a.right - a.left) - 1, Math.round(a.bottom - a.top) - 1);
        ctx.stroke();
        const drawX = (v: number, len: number) => {
          const p = Math.round(sx.getPixelForValue(v)) + 0.5;
          if (p < a.left + 1 || p > a.right - 1) return;
          ctx.moveTo(p, a.bottom); ctx.lineTo(p, a.bottom - len);
          ctx.moveTo(p, a.top); ctx.lineTo(p, a.top + len);
        };
        const drawY = (v: number, len: number) => {
          const p = Math.round(sy.getPixelForValue(v)) + 0.5;
          if (p < a.top + 1 || p > a.bottom - 1) return;
          ctx.moveTo(a.left, p); ctx.lineTo(a.left + len, p);
          ctx.moveTo(a.right, p); ctx.lineTo(a.right - len, p);
        };
        ctx.beginPath();
        minorValues(spec.xr[0], spec.xr[1], spec.xMinor).forEach((v) => drawX(v, 1.5));
        minorValues(spec.yr[0], spec.yr[1], spec.yMinor).forEach((v) => drawY(v, 1.5));
        ctx.stroke();
        ctx.beginPath();
        spec.xt.forEach((v) => drawX(v, 3));
        spec.yt.forEach((v) => drawY(v, 3));
        ctx.stroke();
        ctx.restore();
      },
    };

    const chart = new Chart(canvas, {
      type: "scatter",
      data: {
        datasets: [
          {
            data: spec.points.map((p) => ({ x: p[0], y: p[1] })),
            backgroundColor: POINT_COLOR,
            borderWidth: 0,
            pointRadius: 1.7,
            pointHoverRadius: 1.7,
          },
        ],
      },
      options: {
        animation: false,
        responsive: false,
        maintainAspectRatio: false,
        events: [],
        layout: { padding: { left: 0, top: padTop, right: padRight, bottom: padBottom } },
        plugins: {
          legend: { display: false },
          tooltip: { enabled: false },
          title: {
            display: true,
            text: captions[index],
            position: "bottom",
            fullSize: spec.capFull,
            padding: 0,
            color: TEXT_COLOR,
            font: { family: SERIF, size: 10, lineHeight: 1, weight: "normal" },
          },
        },
        scales: {
          x: {
            type: "linear",
            min: spec.xr[0],
            max: spec.xr[1],
            grid: { display: false, drawTicks: false },
            border: { display: false },
            afterBuildTicks: (s: any) => { s.ticks = spec.xt.map((v) => ({ value: v })); },
            ticks: {
              autoSkip: false, maxRotation: 0, minRotation: 0, padding: 3,
              color: TEXT_COLOR, font: { family: SERIF, size: 10 },
              callback: (_v: any, i: number) => spec.xl[i],
            },
            title: {
              display: true, text: xTitle, color: TEXT_COLOR,
              font: { family: SERIF, size: 10, lineHeight: 1, style: "italic" },
              padding: { top: 0, bottom: xTitlePad },
            },
            afterFit: (s: any) => {
              s.height = xAxisH;
              s.paddingLeft = 0; s.paddingRight = 0; s.paddingTop = 0; s.paddingBottom = 0;
            },
          },
          y: {
            type: "linear",
            min: spec.yr[0],
            max: spec.yr[1],
            grid: { display: false, drawTicks: false },
            border: { display: false },
            afterBuildTicks: (s: any) => { s.ticks = spec.yt.map((v) => ({ value: v })); },
            ticks: {
              autoSkip: false, padding: 4,
              color: TEXT_COLOR, font: { family: SERIF, size: spec.yTickSize },
              callback: (_v: any, i: number) => spec.yl[i],
            },
            title: {
              display: true, text: yTitle, color: TEXT_COLOR,
              font: { family: SERIF, size: 10, lineHeight: 1, style: "italic" },
              padding: { top: yTitlePad, bottom: 0 },
            },
            afterFit: (s: any) => {
              s.width = yAxisW;
              s.paddingLeft = 0; s.paddingRight = 0; s.paddingTop = 0; s.paddingBottom = 0;
            },
          },
        },
      },
      plugins: [frame],
    } as any);
    return () => chart.destroy();
  }, [spec, index]);

  const [CL, CT, CW, CH] = spec.canvas;
  return (
    <canvas
      ref={ref}
      width={CW}
      height={CH}
      style={{ position: "absolute", left: CL, top: CT, width: CW, height: CH }}
    />
  );
}

export default function App() {
  return (
    <div style={{ position: "absolute", left: 0, top: 0, width: 474, height: 379, background: "#ffffff", overflow: "hidden" }}>
      {specs.map((s, i) => (
        <Panel key={i} spec={s} index={i} />
      ))}
    </div>
  );
}
